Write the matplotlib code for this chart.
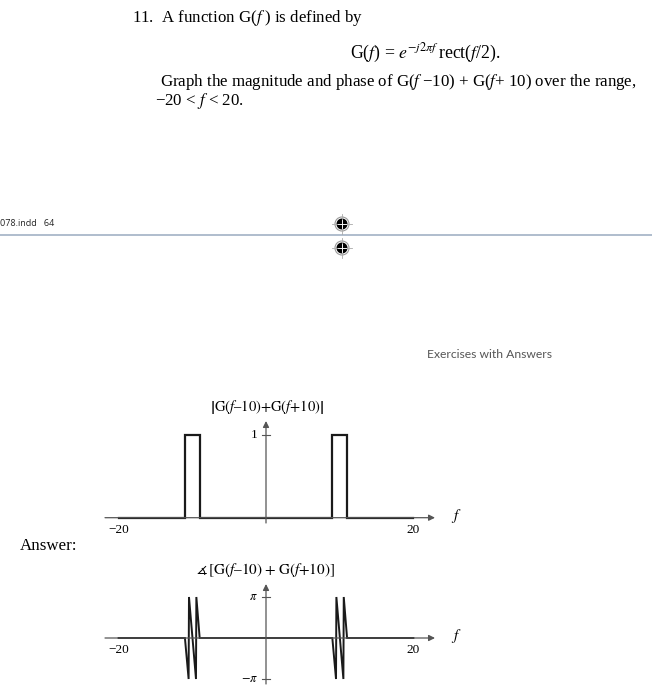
import numpy as np
import matplotlib
matplotlib.use("Agg")
import matplotlib.pyplot as plt
from matplotlib.patches import Circle

plt.rcParams['mathtext.fontset'] = 'stix'
plt.rcParams['font.family'] = ['Liberation Serif', 'DejaVu Serif']

# ---- data ----
mag_f = [-20, -11, -11, -9, -9, 9, 9, 11, 11, 20]
mag_v = [0, 0, 1, 1, 0, 0, 1, 1, 0, 0]

PI = np.pi
phase_f = [-20, -11, -10.5, -10.45, -9.5, -9.45, -9, 9, 9.5, 9.55, 10.5, 10.55, 11, 20]
phase_v = [0, 0, -PI, PI, -PI, PI, 0, 0, -PI, PI, -PI, PI, 0, 0]

x_ticks = [-20, 20]
x_tick_labels = ["\u221220", "20"]

W, H = 652, 700
fig = plt.figure(figsize=(W / 100, H / 100), dpi=100)

# page overlay in pixel coords
page = fig.add_axes([0, 0, 1, 1])
page.set_xlim(0, W)
page.set_ylim(H, 0)
page.axis('off')

txt_fs = 12.2
page.text(132, 18, "11.  A function G($f$\u2009) is defined by", fontsize=txt_fs, va='center', ha='left')
page.text(350, 53, r"G($f$) = $e^{-j2\pi f}\,$rect($f$/2).", fontsize=12.8, va='center', ha='left')
page.text(160, 82, "Graph the magnitude and phase of G($f$\u2009\u221210) + G($f$+ 10) over the range,",
          fontsize=txt_fs, va='center', ha='left')
page.text(155, 101, "\u221220 < $f$ < 20.", fontsize=txt_fs, va='center', ha='left')

page.text(0, 224, "078.indd   64", fontsize=6.5, family=['Open Sans', 'DejaVu Sans'],
          va='center', ha='left', color='#222222')
page.plot([0, W], [235, 235], color='#a9b7c9', lw=1.3)

for cy in (224, 248):
    page.add_patch(Circle((342, cy), 7.0, facecolor='white', edgecolor='#999999', lw=0.8))
    page.add_patch(Circle((342, cy), 4.8, facecolor='black', edgecolor='black'))
    page.plot([332, 352], [cy, cy], color='#aaaaaa', lw=0.6)
    page.plot([342, 342], [cy - 10, cy + 10], color='#aaaaaa', lw=0.6)
    page.plot([338, 346], [cy, cy], color='white', lw=0.6)
    page.plot([342, 342], [cy - 4, cy + 4], color='white', lw=0.6)

page.text(427, 354, "Exercises with Answers", fontsize=8.7, family=['Lato', 'DejaVu Sans'],
          va='center', ha='left', color='#555555')
page.text(20, 546, "Answer:", fontsize=txt_fs, va='center', ha='left')


def px_axes(left, right, top, bottom):
    return fig.add_axes([left / W, 1 - bottom / H, (right - left) / W, (bottom - top) / H])


X0 = 266.0
SX = 7.37
L, R = 95, 470
xlim = ((L - X0) / SX, (R - X0) / SX)
ax_col = '#555555'

# ---- magnitude ----
base1 = 517.7
sy1 = 82.7
top1, bot1 = 400, 540
ax1 = px_axes(L, R, top1, bot1)
ax1.set_xlim(*xlim)
ax1.set_ylim((base1 - bot1) / sy1, (base1 - top1) / sy1)
ax1.axis('off')
xa0, xa1 = (105 - X0) / SX, (435 - X0) / SX
ax1.annotate("", xy=(xa1, 0), xytext=(xa0, 0),
             arrowprops=dict(arrowstyle='-|>', color=ax_col, lw=0.9, mutation_scale=9, shrinkA=0, shrinkB=0))
ax1.annotate("", xy=(0, (base1 - 421) / sy1), xytext=(0, (base1 - 523) / sy1),
             arrowprops=dict(arrowstyle='-|>', color=ax_col, lw=0.9, mutation_scale=9, shrinkA=0, shrinkB=0))
ax1.plot(mag_f, mag_v, color='#1a1a1a', lw=1.6, solid_joinstyle='miter')
ax1.plot([-0.5, 0.5], [1, 1], color=ax_col, lw=0.8)
ax1.text(-1.1, 1, "1", fontsize=9.5, ha='right', va='center')
for t, lab in zip(x_ticks, x_tick_labels):
    ax1.text(t, (base1 - 530) / sy1, lab, fontsize=9.5, ha='center', va='center')
ax1.text((456 - X0) / SX, (base1 - 516) / sy1, "$f$", fontsize=11, ha='center', va='center')
ax1.text(0.2, (base1 - 407) / sy1, r"$\left|\mathrm{G}(f\mathrm{–}10)\mathrm{+}\mathrm{G}(f\mathrm{+}10)\right|$",
         fontsize=10.5, ha='center', va='center')

# ---- phase ----
base2 = 638.0
sy2 = 41.0 / PI
top2, bot2 = 560, 695
ax2 = px_axes(L, R, top2, bot2)
ax2.set_xlim(*xlim)
ax2.set_ylim((base2 - bot2) / sy2, (base2 - top2) / sy2)
ax2.axis('off')
ax2.annotate("", xy=(xa1, 0), xytext=(xa0, 0),
             arrowprops=dict(arrowstyle='-|>', color=ax_col, lw=0.9, mutation_scale=9, shrinkA=0, shrinkB=0))
ax2.annotate("", xy=(0, (base2 - 584) / sy2), xytext=(0, (base2 - 684) / sy2),
             arrowprops=dict(arrowstyle='-|>', color=ax_col, lw=0.9, mutation_scale=9, shrinkA=0, shrinkB=0))
ax2.plot(phase_f, phase_v, color='#1a1a1a', lw=1.4, solid_joinstyle='miter')
for v in (PI, -PI):
    ax2.plot([-0.5, 0.5], [v, v], color=ax_col, lw=0.8)
ax2.text(-1.1, PI, r"$\pi$", fontsize=9, ha='right', va='center')
ax2.text(-1.1, -PI, r"$-\pi$", fontsize=9, ha='right', va='center')
for t, lab in zip(x_ticks, x_tick_labels):
    ax2.text(t, (base2 - 650) / sy2, lab, fontsize=9.5, ha='center', va='center')
ax2.text((456 - X0) / SX, (base2 - 636) / sy2, "$f$", fontsize=11, ha='center', va='center')
ax2.text(0.0, (base2 - 570) / sy2,
         r"$\measuredangle\,\left[\mathrm{G}(f\mathrm{–}10)\;\mathrm{+}\;\mathrm{G}(f\mathrm{+}10)\right]$",
         fontsize=11, ha='center', va='center')

fig.savefig("out.png", dpi=100)
